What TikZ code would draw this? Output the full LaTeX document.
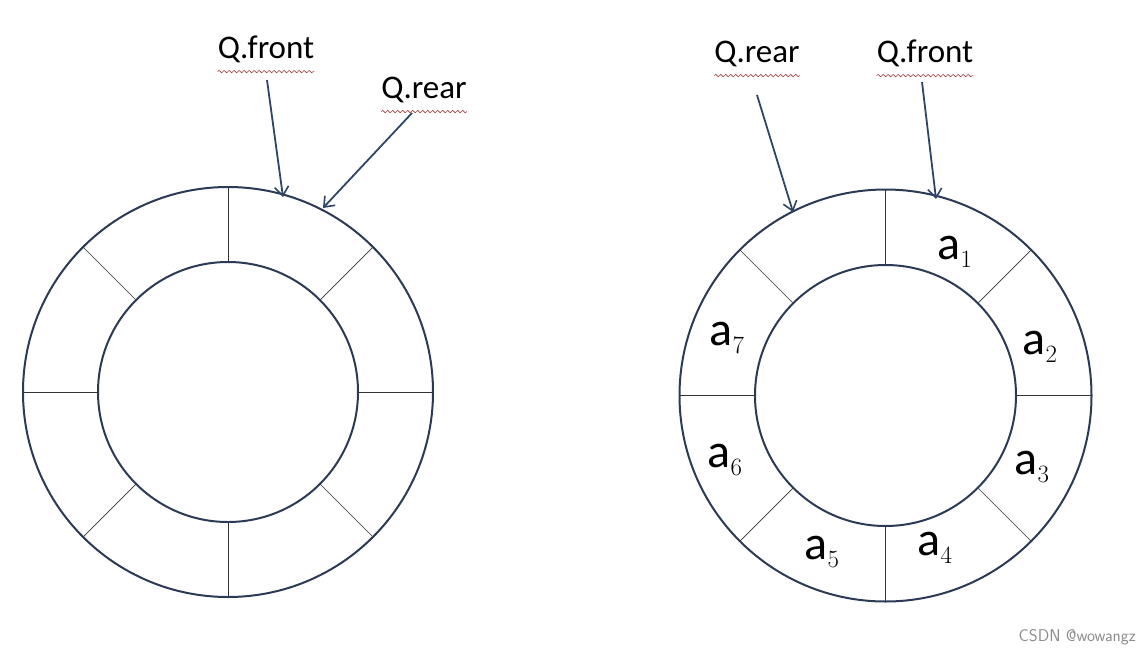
\documentclass[tikz,border=0pt]{standalone}
\usepackage{fontspec}
\setmainfont{Carlito}
\usetikzlibrary{arrows.meta,decorations.pathmorphing,calc}
\definecolor{ring}{HTML}{2B3A55}
\definecolor{arr}{HTML}{2E4566}
\definecolor{wavy}{HTML}{A04040}
\tikzset{
  ringline/.style={draw=ring,line width=2pt},
  divider/.style={draw=black!80,line width=0.7pt},
  ptr/.style={draw=arr,line width=1.8pt,-{Straight Barb[length=9pt,width=14pt,line width=1.6pt]}},
  qlabel/.style={font=\fontsize{33}{36}\selectfont,inner sep=0pt,anchor=base},
  elem/.style={font=\fontsize{48}{50}\selectfont,inner sep=0pt},
  squiggle/.style={draw=wavy,line width=0.6pt,decorate,decoration={snake,amplitude=1.2pt,segment length=5pt}}
}
\begin{document}
\begin{tikzpicture}[x=1pt,y=-1pt]
\useasboundingbox (0,0) rectangle (1140,659);
% left ring
\coordinate (L) at (228,392);
\foreach \a in {0,45,...,315}{\draw[divider] ($(L)+(\a:130)$) -- ($(L)+(\a:205)$);}
\draw[ringline] (L) circle[radius=205];
\draw[ringline] (L) circle[radius=130];
% right ring
\coordinate (R) at (885.5,395.5);
\foreach \a in {0,45,...,315}{\draw[divider] ($(R)+(\a:130.5)$) -- ($(R)+(\a:206)$);}
\draw[ringline] (R) circle[radius=206];
\draw[ringline] (R) circle[radius=130.5];
% labels left
\node[qlabel] (lf) at (266,58) {Q.front};
\node[qlabel] (lr) at (424,98) {Q.rear};
\draw[squiggle] ([yshift=-9]lf.south west) -- ([yshift=-9]lf.south east);
\draw[squiggle] ([yshift=-9]lr.south west) -- ([yshift=-9]lr.south east);
\coordinate (lft) at (267,80); \coordinate (lfh) at (283,197);
\coordinate (lrt) at (412,113); \coordinate (lrh) at (323,208);
\draw[ptr] (lft) -- (lfh);
\draw[ptr] (lrt) -- (lrh);
% labels right
\node[qlabel] (rr) at (757,62) {Q.rear};
\node[qlabel] (rf) at (925,62) {Q.front};
\draw[squiggle] ([yshift=-9]rr.south west) -- ([yshift=-9]rr.south east);
\draw[squiggle] ([yshift=-9]rf.south west) -- ([yshift=-9]rf.south east);
\coordinate (rrt) at (757,95); \coordinate (rrh) at (793,212);
\coordinate (rft) at (922,82); \coordinate (rfh) at (936,199);
\draw[ptr] (rrt) -- (rrh);
\draw[ptr] (rft) -- (rfh);
% elements
\node[elem] (a1) at (955,252) {a$_1$};
\node[elem] (a2) at (1040,347) {a$_2$};
\node[elem] (a3) at (1032,467) {a$_3$};
\node[elem] (a4) at (935,548) {a$_4$};
\node[elem] (a5) at (822,552) {a$_5$};
\node[elem] (a6) at (725,460) {a$_6$};
\node[elem] (a7) at (727,338) {a$_7$};
\node[font=\fontsize{17}{18}\selectfont\sffamily,text=black!45,anchor=east,inner sep=0pt] (wm) at (1136,637) {CSDN @wowangz};
\end{tikzpicture}
\end{document}
